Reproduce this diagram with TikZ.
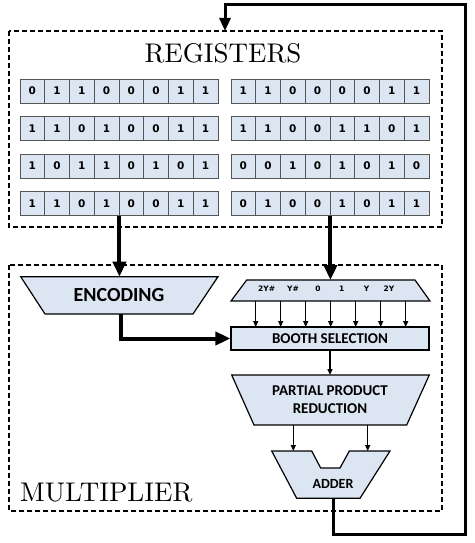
\documentclass[tikz,border=0pt]{standalone}
\usepackage{fontspec}
\newfontfamily\calib{Carlito}
\newfontfamily\dejab{DejaVu Sans}
\newfontfamily\titlefont{lmroman10-regular.otf}
\usetikzlibrary{arrows.meta}
\definecolor{boxfill}{HTML}{DCE6F2}
\definecolor{cellline}{HTML}{555555}
\tikzset{
  dashbox/.style={draw, line width=2.2pt, dash pattern=on 5pt off 3pt},
  cellbox/.style={draw=cellline, fill=boxfill, line width=0.9pt, minimum width=24.75pt, minimum height=24pt, inner sep=0pt, font=\dejab\bfseries\fontsize{10.5}{11}\selectfont},
  unitshape/.style={draw, fill=boxfill, line width=1.2pt},
  unittext/.style={font=\calib\bfseries\fontsize{15}{17}\selectfont, align=center, inner sep=0pt},
  bigtitle/.style={font=\titlefont\fontsize{27}{30}\selectfont, inner sep=0pt},
  thickarrow/.style={line width=4pt, -{Triangle[length=15pt, width=13pt]}},
  thinarrow/.style={line width=1.4pt, -{Triangle[length=6pt, width=5pt]}},
  feedarrow/.style={line width=3pt, -{Triangle[length=13pt, width=11pt]}},
}
\begin{document}
\begin{tikzpicture}[x=1pt, y=-1pt]
\useasboundingbox (0,0) rectangle (474,543);

% containers
\draw[dashbox] (9,31) rectangle (442,227);
\draw[dashbox] (9,265) rectangle (442,511);
\node[bigtitle] (regtitle) at (223,53) {REGISTERS};
\node[bigtitle, anchor=base west] (multitle) at (20,501) {MULTIPLIER};

% registers
\foreach \bits [count=\r] in {{0,1,1,0,0,0,1,1},{1,1,0,1,0,0,1,1},{1,0,1,1,0,1,0,1},{1,1,0,1,0,0,1,1}}{
  \pgfmathsetmacro{\yy}{91+37.5*(\r-1)}
  \foreach \b [count=\c] in \bits {
    \node[cellbox] (L-\r-\c) at ({20+24.75*(\c-0.5)},\yy) {\b};
  }
}
\foreach \bits [count=\r] in {{1,1,0,0,0,0,1,1},{1,1,0,0,1,1,0,1},{0,0,1,0,1,0,1,0},{0,1,0,0,1,0,1,1}}{
  \pgfmathsetmacro{\yy}{91+37.5*(\r-1)}
  \foreach \b [count=\c] in \bits {
    \node[cellbox] (R-\r-\c) at ({231+24.75*(\c-0.5)},\yy) {\b};
  }
}
\coordinate (Lout) at (L-4-4.south east);
\coordinate (Rout) at (R-4-4.south east);

% encoding
\draw[unitshape] (20.7,276.7) -- (218,276.7) -- (193,314) -- (45,314) -- cycle;
\node[unittext, font=\calib\bfseries\fontsize{20}{22}\selectfont] (enc) at (119,295.5) {ENCODING};
\coordinate (encin) at (Lout |- 0,276.7);
\coordinate (encout) at (120.7,314);

% mux
\draw[unitshape] (246.7,280) -- (415,280) -- (430,301) -- (231,301) -- cycle;
\foreach \t/\x [count=\k] in {2Y\#/266.7, Y\#/293, 0/318, 1/341.7, Y/366.7, 2Y/389}{
  \node[font=\dejab\bfseries\fontsize{7.5}{8}\selectfont, inner sep=0pt] (mux\k) at (\x,289) {\t};
}
\coordinate (muxin) at (Rout |- 0,280);

% booth selection
\node[draw, fill=boxfill, line width=1.2pt, minimum width=198pt, minimum height=23pt, inner sep=0pt, unittext] (booth) at (330,338.5) {BOOTH SELECTION};

% partial product reduction
\draw[unitshape] (231.7,375) -- (429.3,375) -- (406.7,425) -- (254,425) -- cycle;
\node[unittext] (ppr) at (330,400) {PARTIAL PRODUCT\\[1pt]REDUCTION};

% adder
\draw[unitshape] (271.7,451) -- (311.7,451) -- (320.7,468) -- (340,468) -- (349.3,451) -- (390,451) -- (360,498.3) -- (296.7,498.3) -- cycle;
\node[unittext, font=\calib\bfseries\fontsize{14}{16}\selectfont] (adder) at (333,483.5) {ADDER};
\coordinate (addout) at (333,498.3);

% connectors
\draw[thickarrow] (Lout) -- (encin);
\draw[thickarrow] (Rout) -- (muxin);
\draw[thickarrow, line cap=butt] (encout) |- (booth.west);
\foreach \k in {0,...,6}{
  \draw[thinarrow] (255.7+25*\k,301) -- (255.7+25*\k,327);
}
\draw[thinarrow] (booth.south) -- (330,375);
\draw[thinarrow] (293.3,425) -- (293.3,451);
\draw[thinarrow] (367.7,425) -- (367.7,451);
\coordinate (regin) at (225,31);
\draw[feedarrow] (addout) -- (333,534) -- (465,534) -- (465,5) -- (225,5) -- (regin);
\end{tikzpicture}
\end{document}
